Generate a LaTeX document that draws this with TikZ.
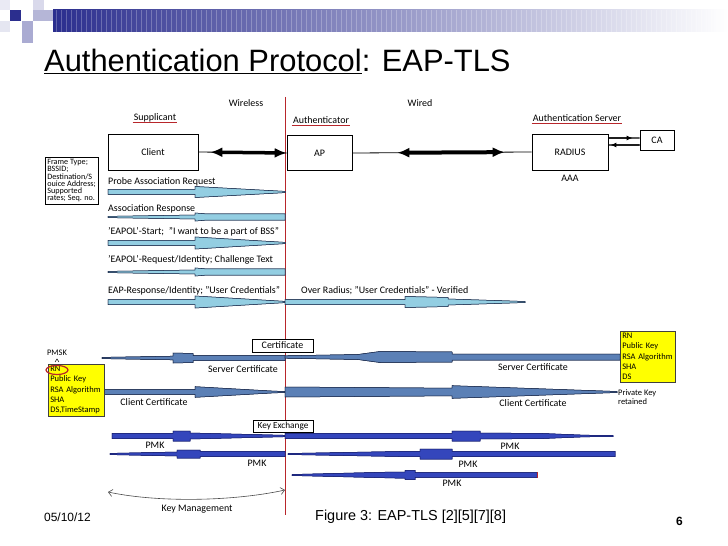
\documentclass[tikz,border=0pt]{standalone}
\usepackage{fontspec}
\setmainfont{Carlito}
\newfontfamily\arialfont{Liberation Sans}
\usetikzlibrary{positioning, arrows.meta, calc}

\definecolor{navybar}{HTML}{2B2E8E}
\definecolor{ribblue}{HTML}{93CEE2}
\definecolor{certblue}{HTML}{5B80B6}
\definecolor{pmkblue}{HTML}{3446BC}
\definecolor{ribedge}{HTML}{1C2A4A}
\definecolor{pmkedge}{HTML}{18206E}
\definecolor{sepred}{HTML}{B8262B}
\definecolor{yelfill}{HTML}{FFFF00}

\newcommand{\lblfont}{\fontsize{10}{12}\selectfont}
\newcommand{\smlfont}{\fontsize{8.5}{10.3}\selectfont}
\newcommand{\tnyfont}{\fontsize{8.2}{7.3}\selectfont}

% tapered band: style, y, first x, last x, list of x/half-height
\newcommand{\ribbon}[5]{%
  \fill[#1] (#3,#2) \foreach \px/\ph in {#5} {-- (\px,{#2-\ph})} -- (#4,#2) -- cycle
            (#3,#2) \foreach \px/\ph in {#5} {-- (\px,{#2+\ph})} -- (#4,#2) -- cycle;
  \draw[#1] (#3,#2) \foreach \px/\ph in {#5} {-- (\px,{#2-\ph})} -- (#4,#2);
  \draw[#1] (#3,#2) \foreach \px/\ph in {#5} {-- (\px,{#2+\ph})} -- (#4,#2);
}

\tikzset{
  lbl/.style={font=\lblfont, inner sep=1bp},
  sml/.style={font=\smlfont, inner sep=1bp},
  box/.style={draw, line width=0.6bp, fill=white, font=\lblfont, inner sep=0pt},
  infobox/.style={draw, line width=0.6bp, font=\tnyfont, align=left, inner sep=2bp},
  yelbox/.style={draw=black!75, line width=0.6bp, fill=yelfill, font=\smlfont, align=left, inner sep=2bp},
  redul/.style={sepred, line width=0.8bp},
  sep/.style={sepred, line width=0.8bp},
  wireline/.style={line width=0.8bp},
  fatarrow/.style={line width=3.5bp, {Latex[length=12bp,width=10bp]}-{Latex[length=12bp,width=10bp]}},
  thinarrow/.style={line width=1.2bp, -{Latex[length=6bp,width=5bp]}},
  kmarrow/.style={line width=0.6bp, black!70, {Straight Barb[length=4bp,width=7bp]}-{Straight Barb[length=4bp,width=7bp]}},
  lbrib/.style={fill=ribblue, draw=ribedge, line width=0.5bp},
  certrib/.style={fill=certblue, draw=ribedge, line width=0.5bp},
  pmkrib/.style={fill=pmkblue, draw=pmkedge, line width=0.5bp},
}

\begin{document}
\begin{tikzpicture}[x=1bp, y=-1bp]
    \fill[white] (0,0) rectangle (728,546);
    \useasboundingbox (0,0) rectangle (728,546);

    % ----------------------------------------------------
    % Slide header
    % ----------------------------------------------------
    \fill[navybar!10] (0,0) rectangle (10,10);
    \fill[navybar] (10,10) rectangle (21,21);
    \fill[navybar!18] (33,0) rectangle (44,10);
    \fill[navybar!35] (33,10) rectangle (54,21);
    \fill[navybar!40] (22,21) rectangle (33,43);
    \fill[navybar!12] (0,21) rectangle (10,32);
    \shade[left color=navybar, right color=white] (53,10) rectangle (728,32);
    \foreach \sx in {56,61,...,716}
        \draw[white, opacity=0.25, line width=0.5bp] (\sx,10) -- (\sx,32);

    \node[anchor=base west, inner sep=0pt, font=\arialfont\fontsize{31}{36}\selectfont] (title) at (44,72)
        {\underline{Authentication Protocol}: EAP-TLS};

    % ----------------------------------------------------
    % Entities
    % ----------------------------------------------------
    \coordinate (septop) at (285,97);
    \coordinate (sepbot) at (285,515);
    \draw[sep] (septop) -- (sepbot);

    \node[lbl] (wless) at (246,103) {Wireless};
    \node[lbl] (wired) at (420,103) {Wired};

    \node[lbl] (supp) at (155,118) {Supplicant};
    \node[lbl] (authr) at (321,120) {Authenticator};
    \node[lbl] (authsrv) at (577,118) {Authentication Server};
    \draw[redul] ([yshift=-1.5bp]supp.base west) -- ([yshift=-1.5bp]supp.base east);
    \draw[redul] ([yshift=-1.5bp]authr.base west) -- ([yshift=-1.5bp]authr.base east);
    \draw[redul] ([yshift=-1.5bp]authsrv.base west) -- ([yshift=-1.5bp]authsrv.base east);

    \node[box, minimum width=90bp, minimum height=36bp] (client) at (153,152) {Client};
    \node[box, minimum width=65bp, minimum height=35bp] (ap) at (319.5,153) {AP};
    \node[box, minimum width=76bp, minimum height=36bp] (radius) at (570,152) {RADIUS};
    \node[box, minimum width=34bp, minimum height=20bp] (ca) at (657,140) {CA};
    \node[lbl, below=4bp of radius] (aaa) {AAA};

    \draw[wireline] (client.east) -- (ap.west);
    \draw[fatarrow, shorten <=12bp] (client.east) -- (ap.west);
    \draw[wireline] (ap.east) -- (radius.west);
    \draw[fatarrow, line width=4bp, shorten <=45bp, shorten >=27bp] (ap.east) -- (radius.west);

    \draw[line width=1.2bp] ([yshift=14bp]radius.east) -- ([yshift=2bp]ca.west);
    \draw[thinarrow, shorten >=7bp] ([yshift=14bp]radius.east) -- ([yshift=2bp]ca.west);
    \draw[line width=1.2bp] ([yshift=-5bp]ca.west) -- ([yshift=7bp]radius.east);
    \draw[thinarrow, shorten >=2bp] ([yshift=-5bp]ca.west) -- ([yshift=7bp]radius.east);

    \node[infobox, anchor=north west] (frame) at (45,157)
        {Frame Type;\\BSSID;\\Destination/S\\ouice Address;\\Supported\\rates; Seq. no.};

    % ----------------------------------------------------
    % Association / EAPOL exchange
    % ----------------------------------------------------
    \ribbon{lbrib}{192}{108}{285}{108/2.5, 195/2.5, 195/5.5, 285/0.6}
    \ribbon{lbrib}{217}{108}{285}{108/0.6, 195/2, 195/4, 205/3.2, 285/3.2}
    \ribbon{lbrib}{243}{108}{285}{108/2.5, 195/2.5, 195/6, 285/0.6}
    \ribbon{lbrib}{272}{108}{285}{108/0.6, 195/2, 195/4, 205/3.2, 285/3.2}
    \ribbon{lbrib}{302}{108}{285}{108/2.5, 195/2.5, 195/6, 285/0.6}
    \ribbon{lbrib}{302}{285}{525}{285/2.5, 405/2.5, 405/5.5, 448/4.5, 448/3, 525/0.5}

    \node[lbl, anchor=west] (probe) at (107,182) {Probe Association Request};
    \node[lbl, anchor=west] (assoc) at (107,209) {Association Response};
    \node[lbl, anchor=west] (start) at (107,232) {'EAPOL'-Start;\enspace"I want to be a part of BSS"};
    \node[lbl, anchor=west] (req) at (107,260) {'EAPOL'-Request/Identity; Challenge Text};
    \node[lbl, anchor=west] (resp) at (107,291) {EAP-Response/Identity; "User Credentials"};
    \node[lbl, anchor=west] (radv) at (300,291) {Over Radius; "User Credentials" - Verified};

    % ----------------------------------------------------
    % Certificates
    % ----------------------------------------------------
    \ribbon{certrib}{358}{102}{285}{102/0.6, 173/1.8, 173/5, 193/4.5, 193/2.5, 285/2.5}
    \ribbon{certrib}{357}{285}{620}{285/1.2, 330/2, 358/2.5, 380/5.5, 452/5, 452/3, 620/3}
    \ribbon{certrib}{392}{104}{285}{104/2.4, 195/2.4, 195/5.3, 275/0.8, 285/0.6}
    \ribbon{certrib}{392}{285}{617}{285/5, 452/3.8, 452/6.3, 597/1.2, 617/0.5}

    \node[box, minimum width=61bp, minimum height=13bp] (cert) at (282.5,345.5) {Certificate};
    \node[lbl] (srvl) at (243,369) {Server Certificate};
    \node[lbl] (srvr) at (533,367) {Server Certificate};
    \node[lbl] (clil) at (154,402) {Client Certificate};
    \node[lbl] (clir) at (533,403) {Client Certificate};

    \node[sml] (pmsk) at (57,353) {PMSK};
    \draw[line width=0.5bp] ([xshift=-2bp,yshift=-5bp]pmsk.south) -- ([yshift=-2bp]pmsk.south)
        -- ([xshift=2bp,yshift=-5bp]pmsk.south);
    \node[yelbox, anchor=north west, text width=52bp] (yelcl) at (48,364)
        {RN\\Public Key\\RSA Algorithm\\SHA\\DS,TimeStamp};
    \draw[sepred, line width=1.2bp] (57,370) ellipse [x radius=11, y radius=4.5];

    \node[yelbox, anchor=north west, text width=51bp] (yelsrv) at (620,331)
        {RN\\Public Key\\RSA Algorithm\\SHA\\DS};
    \node[sml, anchor=west, align=left, font=\fontsize{8.5}{9}\selectfont] (privk) at (617,397.5)
        {Private Key\\retained};

    % ----------------------------------------------------
    % Key exchange
    % ----------------------------------------------------
    \ribbon{pmkrib}{436}{112}{285}{112/2.7, 173/2.7, 173/5, 190/5, 190/3, 285/0.7}
    \ribbon{pmkrib}{436}{285}{613}{285/2.7, 452/2.7, 452/5, 480/5, 480/3, 543/2.5, 585/0.8, 613/0.5}
    \ribbon{pmkrib}{454}{110}{285}{110/0.6, 177/2, 177/4, 200/4, 200/2.7, 285/2.7}
    \ribbon{pmkrib}{454}{288}{615}{288/0.5, 410/2.7, 420/2.7, 420/5, 452/5, 452/2.7, 615/2.7}
    \ribbon{pmkrib}{475}{292}{537}{292/0.5, 395/3, 405/3, 405/4.7, 415/4.7, 415/2.3, 537/2.3}
    \draw[sepred, line width=0.8bp] (537,472) -- (537,478);

    \node[box, minimum width=60bp, minimum height=12bp, font=\fontsize{9.3}{11}\selectfont] (keyx) at (283,426) {Key Exchange};
    \node[lbl] (pmk1) at (155,445) {PMK};
    \node[lbl] (pmk2) at (510,446) {PMK};
    \node[lbl] (pmk3) at (257,463) {PMK};
    \node[lbl] (pmk4) at (468,464) {PMK};
    \node[lbl] (pmk5) at (452,483) {PMK};

    \coordinate (kmleft) at (108,492);
    \coordinate (kmright) at (285,490);
    \draw[kmarrow] (kmleft) .. controls (160,503) and (235,501) .. (kmright);
    \node[lbl] (kmlbl) at (197,509) {Key Management};

    % ----------------------------------------------------
    % Footer
    % ----------------------------------------------------
    \node[anchor=base west, inner sep=0pt, font=\arialfont\fontsize{12}{14}\selectfont] (date) at (44,521) {05/10/12};
    \node[anchor=base west, inner sep=0pt, font=\arialfont\fontsize{14.5}{17}\selectfont] (caption) at (315,520) {Figure 3: EAP-TLS [2][5][7][8]};
    \node[anchor=base west, inner sep=0pt, font=\arialfont\bfseries\fontsize{12}{14}\selectfont] (pageno) at (676,525) {6};
\end{tikzpicture}
\end{document}
